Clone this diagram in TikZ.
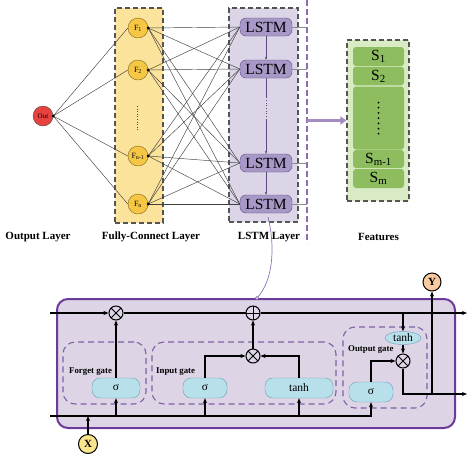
\documentclass[tikz,border=0pt]{standalone}
\usepackage{fontspec}
\setmainfont{Liberation Serif}
\usetikzlibrary{arrows.meta,calc,shapes.geometric}
\definecolor{outred}{HTML}{E8423F}
\definecolor{fcfill}{HTML}{FBE39B}
\definecolor{fcnodefill}{HTML}{F6C744}
\definecolor{fcnodeborder}{HTML}{7A6520}
\definecolor{lstmboxfill}{HTML}{DCD5E8}
\definecolor{lstmnodefill}{HTML}{A898C8}
\definecolor{lstmnodeborder}{HTML}{5B4B80}
\definecolor{featfill}{HTML}{D9EBC4}
\definecolor{sgreen}{HTML}{8DBD5E}
\definecolor{cellfill}{HTML}{DDD4E5}
\definecolor{cellborder}{HTML}{6B3A9B}
\definecolor{sigfill}{HTML}{B7E0EB}
\definecolor{sigborder}{HTML}{6E9DB5}
\definecolor{gatepurple}{HTML}{7F62A5}
\definecolor{yfill}{HTML}{F9CBA0}
\definecolor{xfill}{HTML}{F9E58C}
\definecolor{divpurple}{HTML}{8A70B0}
\definecolor{arrpurple}{HTML}{A58CC0}
\definecolor{boxgray}{HTML}{555555}
\begin{document}
\begin{tikzpicture}[x=1pt,y=-1pt,
  fcnode/.style={circle, draw=fcnodeborder, fill=fcnodefill, minimum size=20pt, inner sep=0pt, font=\fontsize{8}{8}\selectfont},
  lstmnode/.style={rounded corners=6pt, draw=lstmnodeborder, fill=lstmnodefill, minimum width=52pt, minimum height=18pt, inner sep=0pt, font=\fontsize{15.5}{15.5}\selectfont},
  sbox/.style={rounded corners=3pt, fill=sgreen, minimum width=51pt, inner sep=0pt, font=\fontsize{15.5}{15.5}\selectfont},
  layerbox/.style={draw=boxgray, dashed, dash pattern=on 5pt off 3pt, line width=1.1pt, inner sep=0pt},
  lbl/.style={font=\fontsize{11}{11}\selectfont\bfseries, inner sep=0pt},
  conn/.style={draw=black!75, line width=0.45pt},
  gatebox/.style={rounded corners=12pt, draw=gatepurple, dash pattern=on 6pt off 4pt, line width=1.1pt, inner sep=0pt},
  sigbox/.style={rounded corners=8pt, draw=sigborder, fill=sigfill, minimum height=20pt, inner sep=0pt, font=\fontsize{11.5}{11.5}\selectfont},
  glbl/.style={font=\fontsize{8.8}{8.8}\selectfont\bfseries, inner sep=0pt, anchor=west},
  opmul/.style={circle, draw, line width=1pt, minimum size=14pt, inner sep=0pt, fill=cellfill,
     path picture={\draw[line width=1pt] (path picture bounding box.north west) -- (path picture bounding box.south east)
       (path picture bounding box.north east) -- (path picture bounding box.south west);}},
  opadd/.style={circle, draw, line width=1pt, minimum size=14pt, inner sep=0pt, fill=cellfill,
     path picture={\draw[line width=1pt] (path picture bounding box.north) -- (path picture bounding box.south)
       (path picture bounding box.east) -- (path picture bounding box.west);}},
  wire/.style={line width=1.1pt, black},
  arr/.style={wire, -{Stealth[length=5pt,width=4pt]}},
  io/.style={circle, draw=black, line width=1pt, minimum size=19pt, inner sep=0pt, font=\fontsize{11}{11}\selectfont\bfseries}
]
\useasboundingbox (0,0) rectangle (474,459);

% ---------- top part ----------
\node[layerbox, fill=fcfill, minimum width=48pt, minimum height=215pt] (fcbox) at (139,115.5) {};
\node[layerbox, fill=lstmboxfill, minimum width=69pt, minimum height=214pt] (lstmbox) at (263.5,115) {};
\node[layerbox, fill=featfill, minimum width=62pt, minimum height=161pt] (feat) at (378,120.5) {};

\node[circle, draw=black!70, fill=outred, minimum size=20pt, inner sep=0pt, font=\fontsize{7}{7}\selectfont] (out) at (43,116) {Out};

\node[fcnode] (f1) at (138,28) {F\textsubscript{1}};
\node[fcnode] (f2) at (138,70) {F\textsubscript{2}};
\node[fcnode] (f3) at (138,156) {F\textsubscript{n-1}};
\node[fcnode] (f4) at (138,204) {F\textsubscript{n}};
\draw[black!70, line width=0.6pt, dotted] (137,106) -- (137,131);

\node[lstmnode] (l1) at (266,27) {LSTM};
\node[lstmnode] (l2) at (266,69) {LSTM};
\node[lstmnode] (l3) at (266,163) {LSTM};
\node[lstmnode] (l4) at (266,204) {LSTM};

\foreach \f in {f1,f2,f3,f4}{
  \draw[conn] (out.east) -- (\f.west);
  \foreach \l in {l1,l2,l3,l4}{ \draw[conn] (\f.east) -- (\l.west); }
}
\foreach \f in {f1,f2,f3,f4}{ \fill (\f.east) circle (1.6); }
\fill (out.east) circle (1.6);

% lstm chain
\draw[lstmnodeborder, line width=0.7pt, -{Stealth[length=3pt,width=2.5pt]}] (l1.south) -- (l2.north);
\draw[lstmnodeborder, line width=0.7pt] (l2.south) -- ($(l2.south)+(0,19)$);
\draw[lstmnodeborder, line width=0.7pt, dotted] ($(l2.south)+(0,19)$) -- ($(l3.north)+(0,-34)$);
\draw[lstmnodeborder, line width=0.7pt, -{Stealth[length=3pt,width=2.5pt]}] ($(l3.north)+(0,-34)$) -- (l3.north);
\draw[lstmnodeborder, line width=0.7pt, -{Stealth[length=3pt,width=2.5pt]}] (l3.south) -- (l4.north);

% divider
\coordinate (dtop) at (307,0);
\coordinate (dbot) at (307,243);
\draw[divpurple, line width=1.1pt, dash pattern=on 6pt off 3pt] (dtop) -- (dbot);
\foreach \l in {l1,l2,l3,l4}{ \draw[black!45, line width=0.6pt] (\l.east) -- (\l.east -| dtop); }

% thick arrow
\coordinate (as) at (307,120.5);
\draw[arrpurple, line width=3pt, -{Triangle[length=6pt,width=8pt]}] (as) -- (feat.west);

% features
\node[sbox, minimum height=19pt] (s1) at (378.5,56.5) {S\textsubscript{1}};
\node[sbox, minimum height=18.5pt] (s2) at (378.5,76) {S\textsubscript{2}};
\node[sbox, minimum height=63pt] (sd) at (378.5,118) {};
\draw[black, line width=2pt, line cap=round, dash pattern=on 0pt off 5.2pt] ($(sd.center)+(0,-15.5)$) -- ($(sd.center)+(0,16)$);
\node[sbox, minimum height=18pt] (s3) at (378.5,159) {S\textsubscript{m-1}};
\node[sbox, minimum height=19pt] (s4) at (378.5,178.5) {S\textsubscript{m}};

% labels
\node[lbl] (lab1) at (38,237) {Output Layer};
\node[lbl] (lab2) at (151,237) {Fully-Connect Layer};
\node[lbl] (lab3) at (269,237) {LSTM Layer};
\node[lbl] (lab4) at (378.5,237) {Features};

% ---------- bottom part ----------
\node[draw=cellborder, line width=2pt, fill=cellfill, rounded corners=11pt, minimum width=398pt, minimum height=129pt, inner sep=0pt] (cell) at (256,363.5) {};

% curve
\coordinate (cs) at (268,217);
\coordinate (ce) at (257,298);
\draw[divpurple, line width=0.7pt] (cs) .. controls (276,250) and (272,282) .. (ce);
\draw[divpurple, line width=0.6pt, fill=white] (ce) circle (1.6);

% gate boxes
\node[gatebox, minimum width=83pt, minimum height=62pt] (fg) at (104.5,373) {};
\node[gatebox, minimum width=184pt, minimum height=62pt] (ig) at (244,373) {};
\node[gatebox, minimum width=84pt, minimum height=81pt] (og) at (385,367.5) {};
\node[glbl] (fgl) at (69,372) {Forget gate};
\node[glbl] (igl) at (156,372) {Input gate};
\node[glbl] (ogl) at (348,350) {Output gate};

% operators
\node[opmul] (mulf) at (116,313) {};
\node[opadd] (addc) at (253,313) {};
\node[opmul] (muli) at (253,356) {};
\node[opmul] (mulo) at (403,361) {};

% gates
\node[sigbox, minimum width=48pt] (sigf) at (116,388) {σ};
\node[sigbox, minimum width=44pt] (sigi) at (205,388) {σ};
\node[sigbox, minimum width=68pt] (tanhi) at (299,388) {tanh};
\node[sigbox, minimum width=44pt] (sigo) at (371,392) {σ};
\node[ellipse, draw=sigborder, fill=sigfill, minimum width=36pt, minimum height=13pt, inner sep=0pt, font=\fontsize{11.5}{11.5}\selectfont] (tanho) at (403,338) {tanh};

% io
\node[io, fill=xfill] (X) at (88,444) {X};
\node[io, fill=yfill, minimum size=18pt] (Y) at (432,282) {Y};

% wires
\coordinate (cin) at (50,313);
\coordinate (cout) at (467,313);
\coordinate (hin) at (50,416);
\coordinate (hout) at (467,394);
\coordinate (yb) at (432,394);

\draw[arr] (cin) -- (mulf.west);
\draw[wire] (mulf.east) -- (addc.west);
\draw[arr] (addc.east) -- (cout);
\draw[arr] (hin) -| (sigo.south);
\draw[arr] (X.north) -- (X.north |- hin);
\draw[arr] (sigf.south |- hin) -- (sigf.south);
\draw[arr] (sigi.south |- hin) -- (sigi.south);
\draw[arr] (tanhi.south |- hin) -- (tanhi.south);
\draw[arr] (sigf.north) -- (mulf.south);
\draw[arr] (sigi.north) |- (muli.west);
\draw[arr] (tanhi.north) |- (muli.east);
\draw[arr] (muli.north) -- (addc.south);
\draw[arr] (tanho.north |- cout) -- (tanho.north);
\draw[arr] (tanho.south) -- (mulo.north);
\draw[arr] (sigo.north) |- (mulo.west);
\draw[arr] (mulo.south) |- (hout);
\draw[arr] (yb) -- (Y.south);
\end{tikzpicture}
\end{document}
